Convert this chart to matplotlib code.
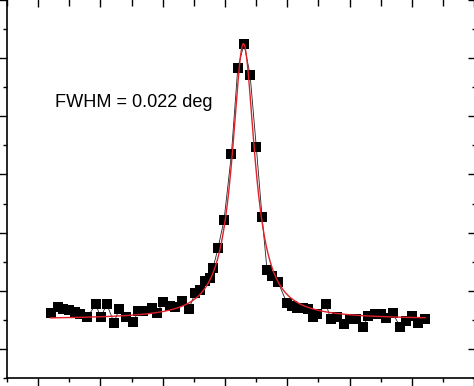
import numpy as np
import matplotlib
matplotlib.use("Agg")
import matplotlib.pyplot as plt
from matplotlib.ticker import MultipleLocator

plt.rcParams['font.family'] = ['Liberation Sans', 'DejaVu Sans']

# ---- data (angle in deg, intensity in a.u.) ----
theta = [-0.1399, -0.1338, -0.1298, -0.1250, -0.1204, -0.1164, -0.1105, -0.1038,
         -0.0998, -0.0949, -0.0891, -0.0851, -0.0795, -0.0736, -0.0696, -0.0656,
         -0.0588, -0.0548, -0.0495, -0.0441, -0.0401, -0.0348, -0.0291, -0.0241,
         -0.0201, -0.0161, -0.0120, -0.0096, -0.0056, -0.0008, 0.0051, 0.0102,
         0.0152, 0.0201, 0.0251, 0.0297, 0.0337, 0.0377, 0.0425, 0.0495,
         0.0540, 0.0580, 0.0628, 0.0664, 0.0709, 0.0741, 0.0811, 0.0848,
         0.0901, 0.0957, 0.1003, 0.1049, 0.1110, 0.1150, 0.1204, 0.1250,
         0.1292, 0.1346, 0.1405, 0.1450, 0.1498, 0.1551, 0.1605]
intensity = [0.624, 0.717, 0.683, 0.671, 0.631, 0.597, 0.545, 0.769,
             0.545, 0.769, 0.452, 0.683, 0.555, 0.469, 0.653, 0.653,
             0.700, 0.614, 0.813, 0.739, 0.727, 0.825, 0.683, 0.958,
             1.015, 1.169, 1.221, 1.393, 1.737, 2.218, 3.348, 4.827,
             5.245, 4.712, 3.469, 2.270, 1.359, 1.255, 1.152, 0.796,
             0.739, 0.710, 0.700, 0.683, 0.555, 0.597, 0.769, 0.511,
             0.545, 0.430, 0.511, 0.511, 0.383, 0.567, 0.597, 0.597,
             0.528, 0.614, 0.383, 0.487, 0.567, 0.452, 0.511]

# Lorentzian fit parameters
fit_center = 0.0148
fit_fwhm = 0.022
fit_amp = 4.74
fit_base = 0.51
label_text = "FWHM = 0.022 deg"

# ---- figure ----
W, H = 474, 386
fig = plt.figure(figsize=(W / 100, H / 100), dpi=100)
# axes box in pixels (from top-left): left 7, right 476, top -2, bottom 378
L, R, T, B = 7, 476, -2, 378
ax = fig.add_axes([L / W, (H - B) / H, (R - L) / W, (B - T) / H])

px_per_deg = 62.3 / 0.05
px_per_unit = 58.15
x0 = -0.175
y0 = -0.5
ax.set_xlim(x0, x0 + (R - L) / px_per_deg)
ax.set_ylim(y0, y0 + (B - T) / px_per_unit)

xf = np.linspace(theta[0], theta[-1], 800)
yf = fit_base + fit_amp / (1 + ((xf - fit_center) / (fit_fwhm / 2)) ** 2)

ax.plot(theta, intensity, color='#222222', lw=0.6, zorder=2)
ax.plot(theta, intensity, ls='none', marker='s', ms=7.8, color='black',
        mec='black', mew=0, zorder=3)
ax.plot(xf, yf, color='#e0202a', lw=1.0, zorder=4)

for s in ax.spines.values():
    s.set_linewidth(1.2)

ax.xaxis.set_major_locator(MultipleLocator(0.05))
ax.xaxis.set_minor_locator(MultipleLocator(0.025))
ax.yaxis.set_major_locator(MultipleLocator(1))
ax.yaxis.set_minor_locator(MultipleLocator(0.5))
ax.tick_params(which='both', direction='out', width=1.0,
               labelbottom=False, labelleft=False)
ax.tick_params(which='major', length=6.5)
ax.tick_params(which='minor', length=3.2)

# top / right ticks pointing inward
secx = ax.secondary_xaxis('top')
secx.xaxis.set_major_locator(MultipleLocator(0.05))
secx.xaxis.set_minor_locator(MultipleLocator(0.025))
secx.tick_params(which='both', direction='in', width=1.0, labeltop=False)
secx.tick_params(which='major', length=6.5)
secx.tick_params(which='minor', length=5.5)
secy = ax.secondary_yaxis('right')
secy.yaxis.set_major_locator(MultipleLocator(1))
secy.yaxis.set_minor_locator(MultipleLocator(0.5))
secy.tick_params(which='both', direction='in', width=1.0, labelright=False)
secy.tick_params(which='major', length=6)
secy.tick_params(which='minor', length=3)

fig.text(55 / W, 1 - 106.7 / H, label_text, fontsize=13.1, ha='left',
         va='baseline', color='black')

fig.savefig('out.png', dpi=100)
